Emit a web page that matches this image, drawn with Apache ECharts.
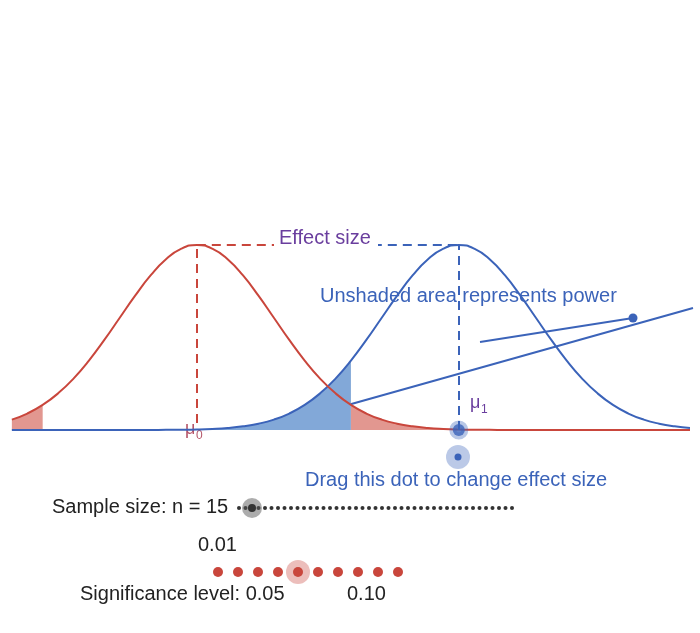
<!DOCTYPE html>
<html>
<head>
<meta charset="utf-8">
<script src="https://cdn.jsdelivr.net/npm/echarts@6/dist/echarts.min.js"></script>
<style>
  html, body { margin: 0; padding: 0; background: #fff; }
  #root { width: 700px; height: 633px; }
</style>
</head>
<body>
<div id="root"></div>
<script>
// standard normal density, read at |z| = 0, 0.2, 0.4, ...
const pdfTable = [0.3989, 0.3910, 0.3683, 0.3332, 0.2897, 0.2420, 0.1942, 0.1497, 0.1109, 0.0790,
  0.0540, 0.0355, 0.0224, 0.0136, 0.0079, 0.0044, 0.0024, 0.0012, 0.0006, 0.0003, 0.0001,
  0, 0, 0, 0, 0, 0, 0, 0, 0, 0, 0, 0, 0]
const mu0 = 0
const mu1 = 3.4
const critical = 2.0
const sampleSizes = [5, 10, 15, 20, 25, 30, 35, 40, 45, 50, 55, 60, 65, 70, 75, 80, 85, 90, 95, 100,
  105, 110, 115, 120, 125, 130, 135, 140, 145, 150, 155, 160, 165, 170, 175, 180, 185, 190, 195, 200,
  205, 210, 215]
const sampleIndex = 2
const sigLevels = [0.01, 0.02, 0.03, 0.04, 0.05, 0.06, 0.07, 0.08, 0.09, 0.10]
const sigIndex = 4

const xs = []
for (let i = 0; i <= 44; i++) xs.push(Math.round((-2.4 + i * 0.2) * 10) / 10)
const dens = (x, mu) => pdfTable[Math.abs(Math.round((x - mu) / 0.2))] || 0

const red = xs.map(x => [x, dens(x, mu0)])
const blue = xs.map(x => [x, dens(x, mu1)])

const RED = '#c9463c'
const BLUE = '#3b63b9'
const PURPLE = '#6a3e9e'
const FONT = 'Liberation Sans, Arial, sans-serif'
const F = '20px ' + FONT

const chart = echarts.init(document.getElementById('root'))

const graphics = [
  { type: 'rect', shape: { x: 274, y: 236, width: 104, height: 16 }, style: { fill: '#fff' }, z: 10 },
  { type: 'text', left: 279, top: 228, style: { text: 'Effect size', fill: PURPLE, font: F }, z: 11 },
  { type: 'text', left: 320, top: 286, style: { text: 'Unshaded area represents power', fill: BLUE, font: F } },
  { type: 'line', shape: { x1: 330, y1: 410, x2: 693, y2: 308 }, style: { stroke: BLUE, lineWidth: 2 } },
  { type: 'line', shape: { x1: 480, y1: 342, x2: 633, y2: 318 }, style: { stroke: BLUE, lineWidth: 2 } },
  { type: 'circle', shape: { cx: 633, cy: 318, r: 4.5 }, style: { fill: BLUE } },
  { type: 'text', left: 185, top: 420, style: { text: 'μ', fill: '#b5566a', font: '18px ' + FONT } },
  { type: 'text', left: 196, top: 430, style: { text: '0', fill: '#b5566a', font: '12px ' + FONT } },
  { type: 'text', left: 470, top: 394, style: { text: 'μ', fill: PURPLE, font: '18px ' + FONT } },
  { type: 'text', left: 481, top: 404, style: { text: '1', fill: PURPLE, font: '12px ' + FONT } },
  { type: 'circle', shape: { cx: 458, cy: 457, r: 12 }, style: { fill: 'rgba(59,99,185,0.35)' } },
  { type: 'circle', shape: { cx: 458, cy: 457, r: 3.5 }, style: { fill: BLUE } },
  { type: 'text', left: 305, top: 470, style: { text: 'Drag this dot to change effect size', fill: BLUE, font: F } },
  { type: 'text', left: 52, top: 497, style: { text: 'Sample size: n = ' + sampleSizes[sampleIndex], fill: '#222', font: F }, z: 5 },
  { type: 'text', left: 198, top: 535, style: { text: sigLevels[0].toFixed(2), fill: '#222', font: F } },
  { type: 'text', left: 80, top: 584, style: { text: 'Significance level: ' + sigLevels[sigIndex].toFixed(2), fill: '#222', font: F } },
  { type: 'text', left: 347, top: 584, style: { text: sigLevels[9].toFixed(2), fill: '#222', font: F } }
]
// sample size slider
sampleSizes.forEach((n, i) => {
  const cx = 239 + i * 6.5
  if (i === sampleIndex) return
  graphics.push({ type: 'circle', shape: { cx: cx, cy: 508, r: 2 }, style: { fill: '#333' } })
})
graphics.push({ type: 'circle', shape: { cx: 239 + sampleIndex * 6.5, cy: 508, r: 10 }, style: { fill: 'rgba(90,90,90,0.5)' } })
graphics.push({ type: 'circle', shape: { cx: 239 + sampleIndex * 6.5, cy: 508, r: 4 }, style: { fill: '#333' } })
// significance slider
sigLevels.forEach((a, i) => {
  const cx = 218 + i * 20
  if (i === sigIndex) {
    graphics.push({ type: 'circle', shape: { cx: cx, cy: 572, r: 12 }, style: { fill: 'rgba(201,70,60,0.35)' } })
  }
  graphics.push({ type: 'circle', shape: { cx: cx, cy: 572, r: 5 }, style: { fill: RED } })
})

const dashed = (color) => ({ color: color, type: [9, 6], width: 2 })

chart.setOption({
  animation: false,
  grid: { left: 8, right: 10, top: 244.5, bottom: 203 },
  xAxis: { type: 'value', min: -2.45, max: 6.4, show: false },
  yAxis: { type: 'value', min: 0, max: 0.4, show: false },
  series: [
    {
      type: 'line', data: blue.filter(p => p[0] <= critical), symbol: 'none', smooth: true,
      lineStyle: { width: 0 }, areaStyle: { color: '#82a8d8', opacity: 1 }
    },
    {
      type: 'line', data: red.filter(p => p[0] <= -critical), symbol: 'none', smooth: true,
      lineStyle: { width: 0 }, areaStyle: { color: '#e29790', opacity: 1 }
    },
    {
      type: 'line', data: red.filter(p => p[0] >= critical), symbol: 'none', smooth: true,
      lineStyle: { width: 0 }, areaStyle: { color: '#e29790', opacity: 1 }
    },
    {
      type: 'line', data: blue, symbol: 'none', smooth: true, lineStyle: { color: BLUE, width: 2 },
      markLine: {
        symbol: 'none', silent: true, label: { show: false }, lineStyle: dashed(BLUE),
        data: [
          [{ coord: [mu1, 0] }, { coord: [mu1, pdfTable[0]] }],
          [{ coord: [(mu0 + mu1) / 2, pdfTable[0]] }, { coord: [mu1, pdfTable[0]] }]
        ]
      }
    },
    {
      type: 'line', data: red, symbol: 'none', smooth: true, lineStyle: { color: RED, width: 2 },
      markLine: {
        symbol: 'none', silent: true, label: { show: false }, lineStyle: dashed(RED),
        data: [
          [{ coord: [mu0, 0.015] }, { coord: [mu0, pdfTable[0]] }],
          [{ coord: [mu0, pdfTable[0]] }, { coord: [(mu0 + mu1) / 2, pdfTable[0]] }]
        ]
      }
    },
    {
      type: 'scatter', data: [[mu1, 0]], clip: false, symbolSize: 12, z: 5,
      itemStyle: { color: BLUE, borderColor: 'rgba(59,99,185,0.45)', borderWidth: 7 }
    }
  ],
  graphic: graphics
})
</script>
</body>
</html>
